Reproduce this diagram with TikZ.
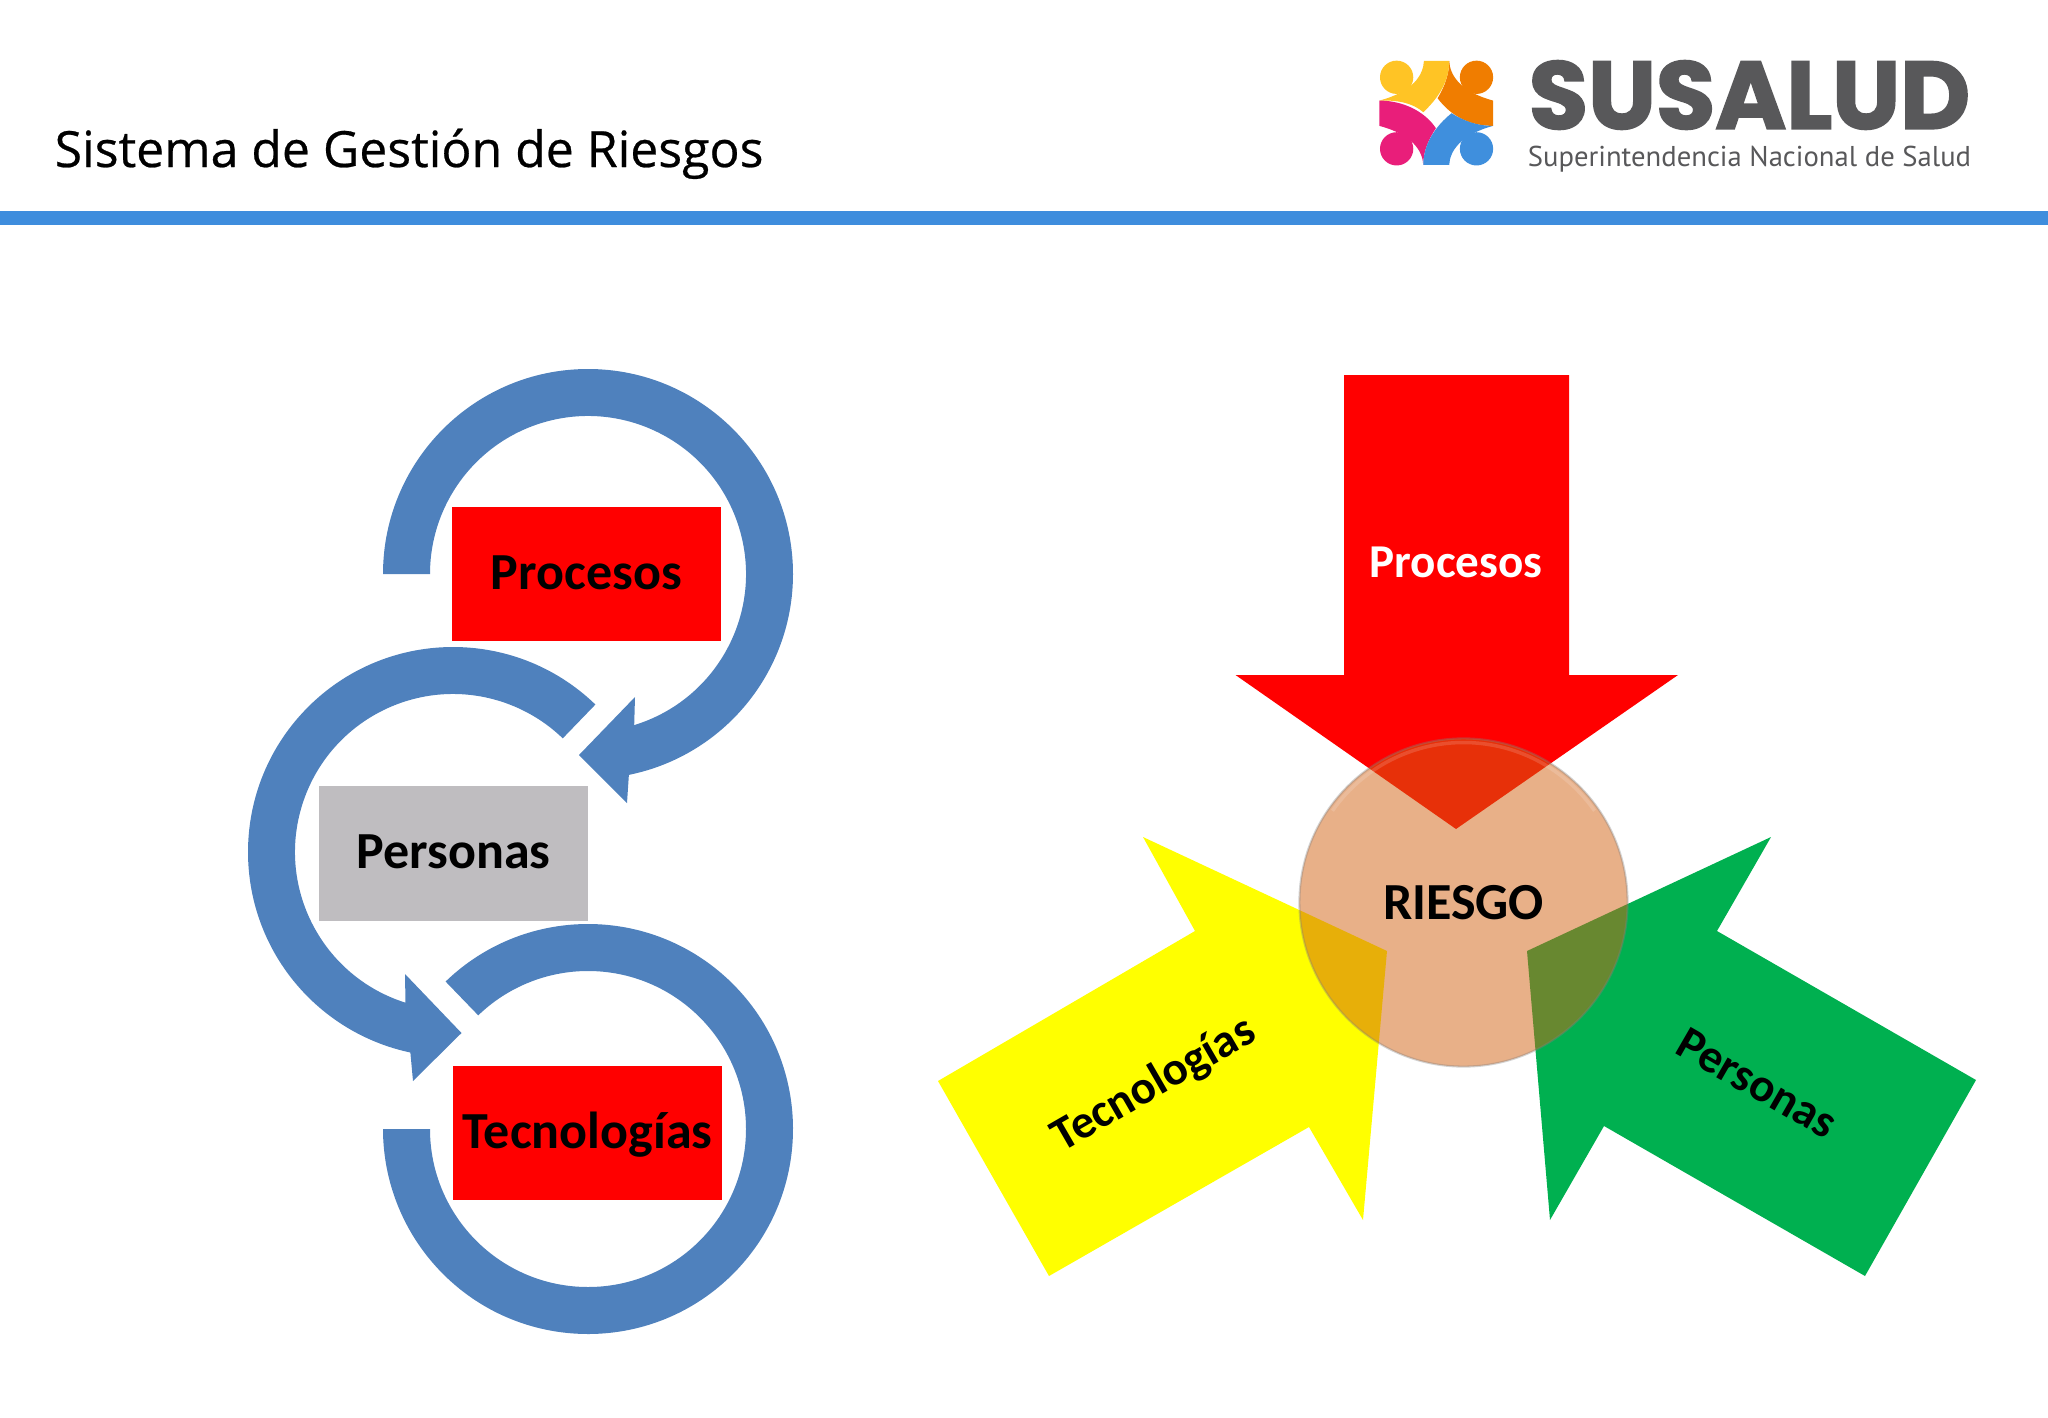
\documentclass[tikz,border=0pt]{standalone}
\usepackage{fontspec}
\setmainfont{Carlito}
\newfontfamily\titlefont[FakeBold=0.5]{Open Sans}
\newfontfamily\logofont[FakeBold=2]{Poppins Bold}
\newfontfamily\logosubfont{PT Sans}
\definecolor{barblue}{HTML}{3E8DDD}
\definecolor{ringblue}{HTML}{4F81BD}
\definecolor{boxgray}{HTML}{BFBDC0}
\definecolor{riskred}{HTML}{FF0000}
\definecolor{riskyellow}{HTML}{FFFF00}
\definecolor{riskgreen}{HTML}{00B050}
\definecolor{riskorange}{HTML}{D16112}
\definecolor{logogray}{HTML}{58585A}
\definecolor{logoyellow}{HTML}{FFC425}
\definecolor{logoorange}{HTML}{F07D00}
\definecolor{logopink}{HTML}{E91E7A}
\definecolor{logoblue}{HTML}{3F8FDD}
\tikzset{
  ringarrow/.style={fill=ringblue},
  stepbox/.style={minimum width=2.69cm, minimum height=1.34cm, inner sep=0pt,
    text height=0.4cm, text depth=0.1cm,
    font=\bfseries\fontsize{14.8}{18}\selectfont},
  risklabel/.style={font=\bfseries\fontsize{13.4}{16}\selectfont},
}
\begin{document}
\begin{tikzpicture}[x=0.01cm,y=0.01cm]
    \useasboundingbox (0,0) rectangle (2048,-1418);

    % Cabecera
    \node (titulo) [anchor=base west, inner sep=0pt, font=\titlefont\fontsize{14.2}{17}\selectfont] at (54,-167) {Sistema de Gestión de Riesgos};
    \fill[barblue] (0,-211) rectangle (2048,-225);

    % Logo
    \begin{scope}[shift={(1370,-50)},x=0.00333cm,y=-0.00333cm]
        \fill[logoorange] (320,82) circle [radius=50];
        \fill[logoorange] (238,33) .. controls (240,75) and (270,125) .. (370,152) -- (370,228) .. controls (300,228) and (245,200) .. (203,145) .. controls (225,110) and (238,70) .. (238,33) -- cycle;
        \fill[logoyellow] (80,82) circle [radius=50];
        \fill[logoyellow] (162,33) .. controls (160,75) and (130,125) .. (28,152) .. controls (85,150) and (130,160) .. (160,187) .. controls (210,140) and (238,90) .. (238,33) -- cycle;
        \fill[logopink] (80,297) circle [radius=50];
        \fill[logopink] (28,152) .. controls (100,152) and (165,185) .. (198,235) .. controls (175,270) and (160,305) .. (160,345) .. controls (158,305) and (130,255) .. (28,228) -- cycle;
        \fill[logoblue] (320,297) circle [radius=50];
        \fill[logoblue] (160,345) -- (238,345) .. controls (240,305) and (270,255) .. (370,228) .. controls (320,228) and (280,212) .. (245,190) .. controls (195,230) and (160,285) .. (160,345) -- cycle;
    \end{scope}
    \node (logo) [inner sep=0pt, text=logogray] at (1749.5,-95) {\resizebox{4.41cm}{0.68cm}{\logofont SUSALUD}};
    \node (logosub) [anchor=base, inner sep=0pt, text=logogray, font=\logosubfont\fontsize{8.15}{10}\selectfont] at (1749.5,-166) {Superintendencia Nacional de Salud};

    % Ciclo de la izquierda
    \coordinate (cprocesos) at (588,-574);
    \coordinate (cpersonas) at (453,-852);
    \coordinate (ctecno) at (588,-1129);

    \fill[ringarrow] ([shift=(180:205)]cprocesos) arc[start angle=180, end angle=-78.5, radius=205]
        -- (627,-803) -- (579,-755) -- (635,-697) -- ([shift=(-73:158)]cprocesos)
        arc[start angle=-73, end angle=180, radius=158] -- cycle;
    \fill[ringarrow] ([shift=(46:205)]cpersonas) arc[start angle=46, end angle=258, radius=205]
        -- (413,-1081) -- (461.5,-1033) -- (405,-974) -- ([shift=(252.5:158)]cpersonas)
        arc[start angle=252.5, end angle=46, radius=158] -- cycle;
    \fill[ringarrow] ([shift=(134:205)]ctecno) arc[start angle=134, end angle=-180, radius=205]
        -- ([shift=(180:158)]ctecno)
        arc[start angle=-180, end angle=134, radius=158] -- cycle;

    \node (procesos) [stepbox, fill=riskred] at (586.5,-574) {Procesos};
    \node (personas) [stepbox, fill=boxgray] at (453.5,-853.5) {Personas};
    \node (tecnologias) [stepbox, fill=riskred] at (587.5,-1133) {Tecnologías};

    % Flechas hacia el riesgo
    \fill[riskred] (1344,-375) -- (1569,-375) -- (1569,-675) -- (1678,-675) -- (1456,-829) -- (1235.5,-675) -- (1344,-675) -- cycle;
    \fill[riskyellow] (938,-1081) -- (1195,-931) -- (1143,-837) -- (1387,-951) -- (1363,-1220) -- (1309,-1127) -- (1049,-1276) -- cycle;
    \fill[riskgreen] (1976,-1080) -- (1717,-931) -- (1771,-837) -- (1527,-951) -- (1550,-1220) -- (1604,-1126) -- (1865,-1276) -- cycle;

    \node (flechaprocesos) [risklabel, text=white] at (1456,-562) {Procesos};
    \node (flechatecno) [risklabel, rotate=30] at (1154,-1085) {Tecnologías};
    \node (flechapersonas) [risklabel, rotate=-30] at (1757,-1083) {Personas};

    % Circulo central
    \node (riesgo) [circle, minimum size=3.28cm, inner sep=0pt, fill=riskorange, fill opacity=0.5, text opacity=1, draw=gray, draw opacity=0.35, line width=0.6pt, font=\bfseries\fontsize{14.8}{18}\selectfont] at (1463.5,-902.5) {RIESGO};
    \draw[white, opacity=0.15, line width=1pt] ([shift=(145:160)]riesgo.center) arc[start angle=145, end angle=35, radius=160];
\end{tikzpicture}
\end{document}
